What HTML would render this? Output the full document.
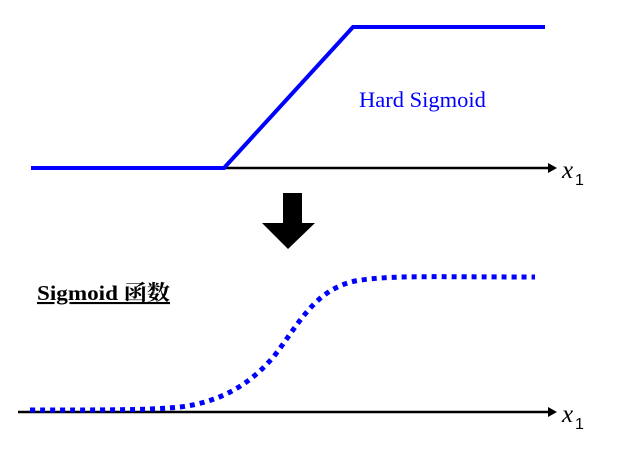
<!DOCTYPE html>
<html><head><meta charset="utf-8"><style>html,body{margin:0;padding:0;background:#fff}</style></head>
<body>
<svg width="625" height="445" viewBox="0 0 625 445" xmlns="http://www.w3.org/2000/svg">
<line x1="224" y1="168" x2="550" y2="168" stroke="#000" stroke-width="2.5"/>
<polygon points="548,163 557,168 548,173" fill="#000"/>
<polyline points="31,168 224,168 353,27 545,27" fill="none" stroke="#0000ff" stroke-width="4"/>
<text x="359" y="107" font-family="Liberation Serif, serif" font-size="22.5" fill="#0000ff">Hard Sigmoid</text>
<text x="562" y="178" font-family="Liberation Serif, serif" font-style="italic" font-size="25" fill="#000">x</text>
<text x="575" y="185" font-family="Liberation Sans, sans-serif" font-size="16" fill="#000">1</text>
<polygon points="283,193 302,193 302,223 315,223 288,249 262,223 283,223" fill="#000"/>
<line x1="18" y1="412" x2="550" y2="412" stroke="#000" stroke-width="2.5"/>
<polygon points="548,407 557,412 548,417" fill="#000"/>
<path d="M30,410 C120,410 150,410 180,407 C220,402 250,385 275,355 C300,322 315,290 355,281 C390,275 430,277 535,277" fill="none" stroke="#0000ff" stroke-width="5" stroke-dasharray="5 5"/>
<text x="37" y="300" font-family="Liberation Serif, 'Noto Serif CJK SC', serif" font-weight="bold" font-size="21" fill="#000" text-decoration="underline" textLength="133" lengthAdjust="spacingAndGlyphs">Sigmoid 函数</text>
<text x="562" y="422" font-family="Liberation Serif, serif" font-style="italic" font-size="25" fill="#000">x</text>
<text x="575" y="429" font-family="Liberation Sans, sans-serif" font-size="16" fill="#000">1</text>
</svg>
</body></html>
